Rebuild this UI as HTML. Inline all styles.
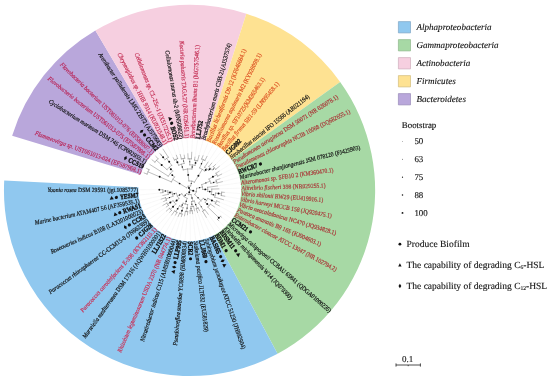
<!DOCTYPE html>
<html><head><meta charset="utf-8"><title>Phylogenetic tree</title>
<style>
html,body{margin:0;padding:0;background:#fff}
svg{display:block}
text{font-family:"Liberation Serif",serif;text-rendering:geometricPrecision}
.i{font-style:italic}
.b{font-weight:bold}
</style></head><body>
<svg width="550" height="383" viewBox="0 0 550 383">
<rect width="550" height="383" fill="#fff"/>
<path d="M12.15 135.83A185.6 185.6 0 0 1 95.38 30.46L163.60 145.58A51.4 51.4 0 0 0 140.62 174.86Z" fill="#b9a7db"/>
<path d="M95.38 30.46A185.6 185.6 0 0 1 246.34 13.70L205.51 140.86A51.4 51.4 0 0 0 163.60 145.58Z" fill="#f6cfe0"/>
<path d="M246.34 13.70A185.6 185.6 0 0 1 340.17 81.95L231.57 159.84A51.4 51.4 0 0 0 205.51 140.86Z" fill="#fee292"/>
<path d="M340.17 81.95A185.6 185.6 0 0 1 277.58 353.79L214.06 235.12A51.4 51.4 0 0 0 231.57 159.84Z" fill="#a7d9a5"/>
<path d="M277.58 353.79A185.6 185.6 0 0 1 4.21 180.56L138.46 187.24A51.4 51.4 0 0 0 214.06 235.12Z" fill="#90c8ef"/>
<g font-size="56.5" stroke-width="0" stroke-linejoin="round">
<g transform="translate(141.38 171.96) rotate(380.23)" fill="#b92659" stroke="#b92659"><text y="18.7" transform="scale(0.1000 0.112)" stroke-width="1.6" text-anchor="end" xml:space="preserve"><tspan class="i">Flammeovirga sp.</tspan> UST061013-024 (EF587968.1)</text></g>
<g transform="translate(143.54 166.94) rotate(386.30)" fill="#111" stroke="#111"><text y="17.5" transform="scale(0.0975 0.120)" stroke-width="3.0" text-anchor="end" class="b" xml:space="preserve">CCS19</text><g transform="translate(0 1.8)"><path d="M-21.63 -1.75L-20.13 -4.1L-18.63 -1.75L-20.13 0.6000000000000001Z"/></g></g>
<g transform="translate(146.21 162.18) rotate(392.36)" fill="#111" stroke="#111"><text y="18.7" transform="scale(0.1000 0.112)" stroke-width="1.6" text-anchor="end" xml:space="preserve"><tspan class="i">Cyclobacterium marinum</tspan> DSM 745 (CP002955.1)</text></g>
<g transform="translate(149.38 157.73) rotate(398.43)" fill="#b92659" stroke="#b92659"><text y="18.7" transform="scale(0.1000 0.112)" stroke-width="1.6" text-anchor="end" xml:space="preserve"><tspan class="i">Flavobacteria bacterium</tspan> UST061013-075 (EF587998.1)</text></g>
<g transform="translate(152.99 153.64) rotate(404.49)" fill="#b92659" stroke="#b92659"><text y="18.7" transform="scale(0.1000 0.112)" stroke-width="1.6" text-anchor="end" xml:space="preserve"><tspan class="i">Flavobacteria bacterium</tspan> UST061013-076 (EF588007.1)</text></g>
<g transform="translate(157.02 149.95) rotate(410.55)" fill="#111" stroke="#111"><text y="17.5" transform="scale(0.0975 0.120)" stroke-width="3.0" text-anchor="end" class="b" xml:space="preserve">CCM2</text><g transform="translate(0 1.8)"><circle cx="-19.51" cy="-1.75" r="1.6"/></g><g transform="translate(0 1.8)"><path d="M-25.71 -1.75L-24.21 -4.1L-22.71 -1.75L-24.21 0.6000000000000001Z"/></g></g>
<g transform="translate(161.41 146.71) rotate(416.62)" fill="#111" stroke="#111"><text y="18.7" transform="scale(0.1000 0.112)" stroke-width="1.6" text-anchor="end" xml:space="preserve"><tspan class="i">Arenibacter palladensis</tspan> LMG 21972 (AJ575643)</text></g>
<g transform="translate(166.12 143.96) rotate(422.68)" fill="#c32c52" stroke="#c32c52"><text y="18.7" transform="scale(0.1000 0.112)" stroke-width="1.6" text-anchor="end" xml:space="preserve"><tspan class="i">Chryseoglobus sp.</tspan> HHB 9314 (KU921548.1)</text></g>
<g transform="translate(171.09 141.71) rotate(428.73)" fill="#c32c52" stroke="#c32c52"><text y="18.7" transform="scale(0.1000 0.112)" stroke-width="1.6" text-anchor="end" xml:space="preserve"><tspan class="i">Cellulomonas sp.</tspan> CL-25c-1 (JX517235.1)</text></g>
<g transform="translate(176.26 140.01) rotate(434.79)" fill="#111" stroke="#111"><text y="17.5" transform="scale(0.0975 0.120)" stroke-width="3.0" text-anchor="end" class="b" xml:space="preserve">BOS2</text><g transform="translate(0 1.8)"><circle cx="-17.38" cy="-1.75" r="1.6"/></g><g transform="translate(0 1.8)"><path d="M-24.18 -0.1499999999999999L-19.98 -0.1499999999999999L-22.08 -3.75Z"/></g></g>
<g transform="translate(181.59 138.86) rotate(440.85)" fill="#111" stroke="#111"><text y="18.7" transform="scale(0.1000 0.112)" stroke-width="1.6" text-anchor="end" xml:space="preserve"><tspan class="i">Cellulomonas taurus</tspan> sh-2 (MN508022)</text></g>
<g transform="translate(187.01 138.28) rotate(446.90)" fill="#c32c52" stroke="#c32c52"><text y="18.7" transform="scale(0.1000 0.112)" stroke-width="1.6" text-anchor="end" xml:space="preserve"><tspan class="i">Kocuria palustris</tspan> TAGA27 (NR 026451.1)</text></g>
<g transform="translate(192.46 138.27) rotate(272.96)" fill="#c32c52" stroke="#c32c52"><text y="18.7" transform="scale(0.1000 0.112)" stroke-width="1.6" text-anchor="start" xml:space="preserve"><tspan class="i">Brevibacterium linens</tspan> B1 (MG757546.1)</text></g>
<g transform="translate(197.89 138.84) rotate(279.02)" fill="#111" stroke="#111"><text y="17.5" transform="scale(0.0975 0.120)" stroke-width="3.0" text-anchor="start" class="b" xml:space="preserve">LLJ752</text></g>
<g transform="translate(203.22 139.98) rotate(285.07)" fill="#111" stroke="#111"><text y="18.7" transform="scale(0.1000 0.112)" stroke-width="1.6" text-anchor="start" xml:space="preserve"><tspan class="i">Brachybacterium muris</tspan> C3H-21(AJ537574)</text></g>
<g transform="translate(208.41 141.67) rotate(291.15)" fill="#dc5222" stroke="#dc5222"><text y="18.7" transform="scale(0.1000 0.112)" stroke-width="1.6" text-anchor="start" xml:space="preserve"><tspan class="i">Bacillus licheniformis</tspan> D9-12 (KF646684.1)</text></g>
<g transform="translate(213.42 143.92) rotate(297.24)" fill="#dc5222" stroke="#dc5222"><text y="18.7" transform="scale(0.1000 0.112)" stroke-width="1.6" text-anchor="start" xml:space="preserve"><tspan class="i">Rossellomorea aquimaris</tspan> M2 (KY928099.1)</text></g>
<g transform="translate(218.15 146.69) rotate(303.33)" fill="#dc5222" stroke="#dc5222"><text y="18.7" transform="scale(0.1000 0.112)" stroke-width="1.6" text-anchor="start" xml:space="preserve"><tspan class="i">Bacillus sp.</tspan> SF10725(KM365463.1)</text></g>
<g transform="translate(222.57 149.94) rotate(309.42)" fill="#dc5222" stroke="#dc5222"><text y="18.7" transform="scale(0.1000 0.112)" stroke-width="1.6" text-anchor="start" xml:space="preserve"><tspan class="i">Bacillus firmus</tspan> SB1-59 (LN995458.1)</text></g>
<g transform="translate(226.61 153.64) rotate(315.51)" fill="#111" stroke="#111"><text y="17.5" transform="scale(0.0975 0.120)" stroke-width="3.0" text-anchor="start" class="b" xml:space="preserve">CJG092</text></g>
<g transform="translate(230.24 157.75) rotate(321.60)" fill="#111" stroke="#111"><text y="18.7" transform="scale(0.1000 0.112)" stroke-width="1.6" text-anchor="start" xml:space="preserve"><tspan class="i">Neobacillus niacini</tspan> IFO 15566 (AB021194)</text></g>
<g transform="translate(233.41 162.22) rotate(327.70)" fill="#aa3436" stroke="#aa3436"><text y="18.7" transform="scale(0.1000 0.112)" stroke-width="1.6" text-anchor="start" xml:space="preserve"><tspan class="i">Pseudomonas aeruginosa</tspan> DSM 50071 (NR 026078.1)</text></g>
<g transform="translate(236.09 167.01) rotate(333.79)" fill="#aa3436" stroke="#aa3436"><text y="18.7" transform="scale(0.1000 0.112)" stroke-width="1.6" text-anchor="start" xml:space="preserve"><tspan class="i">Pseudomonas chlororaphis</tspan> NCIB 10068 (DQ682655.1)</text></g>
<g transform="translate(238.25 172.05) rotate(339.88)" fill="#111" stroke="#111"><text y="17.5" transform="scale(0.0975 0.120)" stroke-width="3.0" text-anchor="start" class="b" xml:space="preserve">RWCR7</text><g transform="translate(0 1.8)"><circle cx="23.60" cy="-1.75" r="1.6"/></g></g>
<g transform="translate(239.86 177.30) rotate(345.98)" fill="#111" stroke="#111"><text y="18.7" transform="scale(0.1000 0.112)" stroke-width="1.6" text-anchor="start" xml:space="preserve"><tspan class="i">Marinobacter zhanjiangensis</tspan> JSM 078120 (FJ425903)</text></g>
<g transform="translate(240.91 182.68) rotate(352.07)" fill="#aa3436" stroke="#aa3436"><text y="18.7" transform="scale(0.1000 0.112)" stroke-width="1.6" text-anchor="start" xml:space="preserve"><tspan class="i">Alteromonas sp.</tspan> SFB10 2 (KM360470.1)</text></g>
<g transform="translate(241.37 188.15) rotate(358.16)" fill="#aa3436" stroke="#aa3436"><text y="18.7" transform="scale(0.1000 0.112)" stroke-width="1.6" text-anchor="start" xml:space="preserve"><tspan class="i">Aliivibrio fischeri</tspan> 398 (NR029255.1)</text></g>
<g transform="translate(241.26 193.63) rotate(364.26)" fill="#aa3436" stroke="#aa3436"><text y="18.7" transform="scale(0.1000 0.112)" stroke-width="1.6" text-anchor="start" xml:space="preserve"><tspan class="i">Vibrio shilonii</tspan> RW29 (EU419916.1)</text></g>
<g transform="translate(240.56 199.07) rotate(370.35)" fill="#aa3436" stroke="#aa3436"><text y="18.7" transform="scale(0.1000 0.112)" stroke-width="1.6" text-anchor="start" xml:space="preserve"><tspan class="i">Vibrio harveyi</tspan> MCCB 158 (JQ920475.1)</text></g>
<g transform="translate(239.29 204.40) rotate(376.44)" fill="#aa3436" stroke="#aa3436"><text y="18.7" transform="scale(0.1000 0.112)" stroke-width="1.6" text-anchor="start" xml:space="preserve"><tspan class="i">Vibrio neocaledonicus</tspan> NC470 (JQ934828.1)</text></g>
<g transform="translate(237.46 209.58) rotate(382.53)" fill="#aa3436" stroke="#aa3436"><text y="18.7" transform="scale(0.1000 0.112)" stroke-width="1.6" text-anchor="start" xml:space="preserve"><tspan class="i">Pantoea ananatis</tspan> B9 16S (KJ004603.1)</text></g>
<g transform="translate(235.09 214.52) rotate(388.63)" fill="#aa3436" stroke="#aa3436"><text y="18.7" transform="scale(0.1000 0.112)" stroke-width="1.6" text-anchor="start" xml:space="preserve"><tspan class="i">Enterobacter cloacae</tspan> ATCC 13047 (NR 102794.2)</text></g>
<g transform="translate(232.21 219.19) rotate(394.72)" fill="#111" stroke="#111"><text y="17.5" transform="scale(0.0975 0.120)" stroke-width="3.0" text-anchor="start" class="b" xml:space="preserve">CCM21</text><g transform="translate(0 1.8)"><circle cx="22.27" cy="-1.75" r="1.6"/></g></g>
<g transform="translate(228.85 223.53) rotate(400.81)" fill="#111" stroke="#111"><text y="18.7" transform="scale(0.1000 0.112)" stroke-width="1.6" text-anchor="start" xml:space="preserve"><tspan class="i">Microvirga calopogonii</tspan> CCBAU 65841 (QDGA01000235)</text></g>
<g transform="translate(225.05 227.48) rotate(406.91)" fill="#111" stroke="#111"><text y="18.7" transform="scale(0.1000 0.112)" stroke-width="1.6" text-anchor="start" xml:space="preserve"><tspan class="i">Klebsiella michiganensis</tspan> W14 (JQ070300)</text></g>
<g transform="translate(220.85 231.01) rotate(413.00)" fill="#111" stroke="#111"><text y="17.5" transform="scale(0.0975 0.120)" stroke-width="3.0" text-anchor="start" class="b" xml:space="preserve">BDSM11</text><g transform="translate(0 1.8)"><circle cx="24.72" cy="-1.75" r="1.6"/></g><g transform="translate(0 1.8)"><path d="M27.32 -0.1499999999999999L31.52 -0.1499999999999999L29.42 -3.75Z"/></g></g>
<g transform="translate(216.30 234.07) rotate(419.09)" fill="#111" stroke="#111"><text y="17.5" transform="scale(0.0975 0.120)" stroke-width="3.0" text-anchor="start" class="b" xml:space="preserve">BDM1</text><g transform="translate(0 1.8)"><circle cx="19.21" cy="-1.75" r="1.6"/></g></g>
<g transform="translate(211.47 236.63) rotate(425.17)" fill="#111" stroke="#111"><text y="17.5" transform="scale(0.0975 0.120)" stroke-width="3.0" text-anchor="start" class="b" xml:space="preserve">BASI65</text><g transform="translate(0 1.8)"><circle cx="21.97" cy="-1.75" r="1.6"/></g><g transform="translate(0 1.8)"><path d="M25.17 -1.75L26.67 -4.1L28.17 -1.75L26.67 0.6000000000000001Z"/></g><g transform="translate(0 1.8)"><path d="M29.27 -0.1499999999999999L33.47 -0.1499999999999999L31.37 -3.75Z"/></g></g>
<g transform="translate(206.42 238.65) rotate(431.22)" fill="#111" stroke="#111"><text y="18.7" transform="scale(0.1000 0.112)" stroke-width="1.6" text-anchor="start" xml:space="preserve"><tspan class="i">Sphingobium yanoikuyae</tspan> ATCC 51230 (JH992904)</text></g>
<g transform="translate(201.17 240.13) rotate(437.27)" fill="#111" stroke="#111"><text y="17.5" transform="scale(0.0975 0.120)" stroke-width="3.0" text-anchor="start" class="b" xml:space="preserve">LLJ860</text><g transform="translate(0 1.8)"><circle cx="21.97" cy="-1.75" r="1.6"/></g></g>
<g transform="translate(195.81 241.05) rotate(443.32)" fill="#111" stroke="#111"><text y="18.7" transform="scale(0.1000 0.112)" stroke-width="1.6" text-anchor="start" xml:space="preserve"><tspan class="i">Stakelama pacifica</tspan> JLT832 (EU581829)</text></g>
<g transform="translate(190.37 241.40) rotate(449.37)" fill="#111" stroke="#111"><text y="17.5" transform="scale(0.0975 0.120)" stroke-width="3.0" text-anchor="start" class="b" xml:space="preserve">SCR2</text><g transform="translate(0 1.8)"><circle cx="17.37" cy="-1.75" r="1.6"/></g></g>
<g transform="translate(184.93 241.17) rotate(635.42)" fill="#111" stroke="#111"><text y="18.7" transform="scale(0.1000 0.112)" stroke-width="1.6" text-anchor="end" xml:space="preserve"><tspan class="i">Pseudohoeflea suaedae</tspan> YC6898 (HM800934)</text></g>
<g transform="translate(179.54 240.37) rotate(641.47)" fill="#111" stroke="#111"><text y="17.5" transform="scale(0.0975 0.120)" stroke-width="3.0" text-anchor="end" class="b" xml:space="preserve">LLP995</text><g transform="translate(0 1.8)"><circle cx="-22.58" cy="-1.75" r="1.6"/></g><g transform="translate(0 1.8)"><path d="M-28.78 -1.75L-27.28 -4.1L-25.78 -1.75L-27.28 0.6000000000000001Z"/></g><g transform="translate(0 1.8)"><path d="M-34.08 -0.1499999999999999L-29.88 -0.1499999999999999L-31.98 -3.75Z"/></g></g>
<g transform="translate(174.27 239.01) rotate(647.52)" fill="#111" stroke="#111"><text y="18.7" transform="scale(0.1000 0.112)" stroke-width="1.6" text-anchor="end" xml:space="preserve"><tspan class="i">Nitratireductor indicus</tspan> C115 (AMSI01000044)</text></g>
<g transform="translate(169.17 237.10) rotate(653.57)" fill="#cb2c52" stroke="#cb2c52"><text y="18.7" transform="scale(0.1000 0.112)" stroke-width="1.6" text-anchor="end" xml:space="preserve"><tspan class="i">Rhizobium leguminosarum</tspan> USDA 2370 (NR 044774.1)</text></g>
<g transform="translate(164.30 234.66) rotate(659.62)" fill="#111" stroke="#111"><text y="17.5" transform="scale(0.0975 0.120)" stroke-width="3.0" text-anchor="end" class="b" xml:space="preserve">LLJ1S22</text></g>
<g transform="translate(159.71 231.72) rotate(665.67)" fill="#111" stroke="#111"><text y="18.7" transform="scale(0.1000 0.112)" stroke-width="1.6" text-anchor="end" xml:space="preserve"><tspan class="i">Martelella mediterranea</tspan> DSM 17316 (AQWH01000001)</text></g>
<g transform="translate(155.46 228.31) rotate(671.72)" fill="#cb2c52" stroke="#cb2c52"><text y="18.7" transform="scale(0.1000 0.112)" stroke-width="1.6" text-anchor="end" xml:space="preserve"><tspan class="i">Paracoccus carotinifaciens</tspan> E-396 (KY382115.1)</text></g>
<g transform="translate(151.59 224.48) rotate(677.77)" fill="#111" stroke="#111"><text y="17.5" transform="scale(0.0975 0.120)" stroke-width="3.0" text-anchor="end" class="b" xml:space="preserve">CJG28</text><g transform="translate(0 1.8)"><circle cx="-20.13" cy="-1.75" r="1.6"/></g></g>
<g transform="translate(148.15 220.26) rotate(683.82)" fill="#111" stroke="#111"><text y="18.7" transform="scale(0.1000 0.112)" stroke-width="1.6" text-anchor="end" xml:space="preserve"><tspan class="i">Paracoccus rhizosphaerae</tspan> CC-CCM15-8 (JN662389)</text></g>
<g transform="translate(145.17 215.70) rotate(689.87)" fill="#111" stroke="#111"><text y="17.5" transform="scale(0.0975 0.120)" stroke-width="3.0" text-anchor="end" class="b" xml:space="preserve">CCR3</text><g transform="translate(0 1.8)"><circle cx="-18.29" cy="-1.75" r="1.6"/></g><g transform="translate(0 1.8)"><path d="M-24.49 -1.75L-22.99 -4.1L-21.49 -1.75L-22.99 0.6000000000000001Z"/></g></g>
<g transform="translate(142.69 210.85) rotate(695.92)" fill="#111" stroke="#111"><text y="18.7" transform="scale(0.1000 0.112)" stroke-width="1.6" text-anchor="end" xml:space="preserve"><tspan class="i">Roseovarius indicus</tspan> B108 (LAXI01000023)</text></g>
<g transform="translate(140.73 205.77) rotate(701.97)" fill="#111" stroke="#111"><text y="17.5" transform="scale(0.0975 0.120)" stroke-width="3.0" text-anchor="end" class="b" xml:space="preserve">RWAS1</text><g transform="translate(0 1.8)"><circle cx="-22.08" cy="-1.75" r="1.6"/></g><g transform="translate(0 1.8)"><path d="M-28.88 -0.1499999999999999L-24.68 -0.1499999999999999L-26.78 -3.75Z"/></g></g>
<g transform="translate(139.32 200.51) rotate(708.02)" fill="#111" stroke="#111"><text y="18.7" transform="scale(0.1000 0.112)" stroke-width="1.6" text-anchor="end" xml:space="preserve"><tspan class="i">Marine bacterium</tspan> ATAM407 56 (AF359535.1)</text></g>
<g transform="translate(138.48 195.13) rotate(714.07)" fill="#111" stroke="#111"><text y="17.5" transform="scale(0.0975 0.120)" stroke-width="3.0" text-anchor="end" class="b" xml:space="preserve">YESM7</text><g transform="translate(0 1.8)"><circle cx="-22.27" cy="-1.75" r="1.6"/></g><g transform="translate(0 1.8)"><path d="M-29.07 -0.1499999999999999L-24.87 -0.1499999999999999L-26.97 -3.75Z"/></g></g>
<g transform="translate(138.20 189.69) rotate(720.12)" fill="#111" stroke="#111"><text y="18.7" transform="scale(0.1000 0.112)" stroke-width="1.6" text-anchor="end" xml:space="preserve"><tspan class="i">Yoonia rosea</tspan> DSM 29591 (jgi.1085777)</text></g>
</g>
<path d="M144.29 173.03L141.85 172.13M146.77 168.54L143.99 167.16M150.10 164.64L146.64 162.45M152.20 159.97L149.77 158.04M155.91 156.51L153.35 153.99M159.94 153.51L157.33 150.34M163.11 149.30L161.68 147.13M173.28 157.82L166.35 144.40M176.38 155.32L171.27 142.18M180.22 154.58L176.39 140.49M184.23 155.25L181.67 139.35M187.86 153.85L187.04 138.77M191.74 152.35L192.44 138.77M194.97 157.21L197.81 139.33M199.03 155.52L203.09 140.46M202.97 155.76L208.23 142.14M206.96 156.46L213.19 144.37M207.93 162.23L217.88 147.10M211.71 163.15L222.25 150.33M215.48 164.57L226.25 153.99M219.19 166.51L229.85 158.06M218.96 171.36L232.99 162.49M221.65 174.12L235.65 167.23M219.85 178.79L237.78 172.22M222.30 181.68L239.38 177.42M217.53 185.94L240.41 182.75M218.79 188.87L240.87 188.16M224.20 192.36L240.76 193.59M224.72 196.18L240.07 198.98M223.37 199.71L238.81 204.26M208.16 214.16L220.55 230.61M206.24 217.26L216.05 233.64M219.36 202.06L237.00 209.38M219.20 205.85L234.65 214.28M214.46 206.89L231.80 218.91M221.59 217.25L228.47 223.20M218.70 220.69L224.71 227.12M199.46 210.67L211.26 236.17M197.53 212.52L206.25 238.18M194.54 210.77L201.06 239.64M192.59 213.64L195.75 240.55M190.06 213.30L190.36 240.90M187.44 214.69L184.98 240.67M184.53 215.77L179.64 239.88M181.37 216.50L174.42 238.53M178.20 216.38L169.37 236.64M175.47 215.01L164.54 234.22M171.72 214.98L160.00 231.31M169.83 212.19L155.79 227.94M166.48 210.97L151.96 224.14M166.39 206.92L148.55 219.96M162.99 205.36L145.60 215.45M163.78 201.43L143.15 210.65M161.27 199.08L141.21 205.61M162.90 195.51L139.81 200.40M160.46 192.85L138.97 195.08M159.30 189.73L138.70 189.69" stroke="#ebebeb" stroke-width="0.35" fill="none"/>
<path d="M189.80 189.80L189.81 189.80M189.80 189.79L188.25 186.11M186.39 187.70A4.00 4.00 0 0 1 190.68 185.90M186.39 187.70L172.77 179.32M171.43 181.90A20.00 20.00 0 0 1 174.47 176.96M171.43 181.90L148.00 171.83M147.11 174.06A45.50 45.50 0 0 1 149.01 169.64M147.11 174.06L144.29 173.03M149.01 169.64L146.77 168.54M174.47 176.96L170.25 173.43M168.26 176.15A25.50 25.50 0 0 1 172.58 170.99M168.26 176.15L150.10 164.64M172.58 170.99L169.20 167.31M166.94 169.61A30.50 30.50 0 0 1 171.69 165.26M166.94 169.61L156.45 160.34M154.94 162.14A44.50 44.50 0 0 1 158.05 158.62M154.94 162.14L152.20 159.97M158.05 158.62L155.91 156.51M171.69 165.26L166.65 158.41M165.02 159.68A39.00 39.00 0 0 1 168.34 157.23M165.02 159.68L161.21 155.05M161.21 155.05A45.00 45.00 0 0 1 161.21 155.05M161.21 155.05L159.94 153.51M168.34 157.23L163.11 149.30M190.68 185.90L191.77 181.02M188.84 180.85A9.00 9.00 0 0 1 194.49 182.12M188.84 180.85L187.56 168.92M183.23 169.85A21.00 21.00 0 0 1 191.99 168.91M183.23 169.85L181.35 164.16M178.69 165.19A27.00 27.00 0 0 1 184.10 163.41M178.69 165.19L176.02 159.27M174.42 160.04A33.50 33.50 0 0 1 177.65 158.58M174.42 160.04L173.28 157.82M177.65 158.58L176.38 155.32M184.10 163.41L183.05 158.52M181.40 158.92A32.00 32.00 0 0 1 184.71 158.21M181.40 158.92L180.22 154.58M184.71 158.21L184.23 155.25M191.99 168.91L192.41 164.94M189.77 164.80A25.00 25.00 0 0 1 195.02 165.35M189.77 164.80L189.76 158.80M188.13 158.85A31.00 31.00 0 0 1 191.40 158.84M188.13 158.85L187.86 153.85M191.40 158.84L191.74 152.35M195.02 165.35L196.06 160.46M194.50 160.17A30.00 30.00 0 0 1 197.60 160.83M194.50 160.17L194.97 157.21M197.60 160.83L199.03 155.52M194.49 182.12L202.31 169.32M199.63 167.91A24.00 24.00 0 0 1 204.79 171.06M199.63 167.91L203.32 159.70M201.70 159.02A33.00 33.00 0 0 1 204.90 160.46M201.70 159.02L202.97 155.76M204.90 160.46L206.96 156.46M204.79 171.06L206.67 168.72M204.64 167.24A27.00 27.00 0 0 1 208.55 170.37M204.64 167.24L207.93 162.23M208.55 170.37L210.64 168.22M208.85 166.62A30.00 30.00 0 0 1 212.29 169.94M208.85 166.62L211.71 163.15M212.29 169.94L214.54 167.96M213.34 166.68A33.00 33.00 0 0 1 215.66 169.30M213.34 166.68L215.48 164.57M215.66 169.30L219.19 166.51M189.81 189.80L196.53 191.73M196.64 188.31A7.00 7.00 0 0 1 194.81 194.68M196.64 188.31L202.50 187.03M201.75 184.69A13.00 13.00 0 0 1 202.80 189.47M201.75 184.69L210.03 181.15M208.99 179.05A22.00 22.00 0 0 1 210.83 183.34M208.99 179.05L216.85 174.65M216.00 173.23A31.00 31.00 0 0 1 217.61 176.11M216.00 173.23L218.96 171.36M217.61 176.11L221.65 174.12M210.83 183.34L216.57 181.58M216.09 180.17A28.00 28.00 0 0 1 216.97 183.01M216.09 180.17L219.85 178.79M216.97 183.01L222.30 181.68M202.80 189.47L207.79 189.34M207.63 187.32A18.00 18.00 0 0 1 207.73 191.37M207.63 187.32L217.53 185.94M207.73 191.37L211.72 191.72M211.79 189.09A22.00 22.00 0 0 1 211.33 194.33M211.79 189.09L218.79 188.87M211.33 194.33L215.24 195.15M215.59 193.10A26.00 26.00 0 0 1 214.74 197.16M215.59 193.10L221.54 193.87M221.71 192.17A32.00 32.00 0 0 1 221.28 195.55M221.71 192.17L224.20 192.36M221.28 195.55L224.72 196.18M214.74 197.16L223.37 199.71M194.81 194.68L201.26 200.96M198.74 203.07A16.00 16.00 0 0 1 203.30 198.38M198.74 203.07L203.76 210.54M204.85 209.77A25.00 25.00 0 0 1 202.64 211.25M204.85 209.77L208.16 214.16M202.64 211.25L206.24 217.26M203.30 198.38L206.68 200.53M207.84 198.44A20.00 20.00 0 0 1 205.28 202.47M207.84 198.44L215.96 202.32M216.59 200.91A29.00 29.00 0 0 1 215.25 203.69M216.59 200.91L219.36 202.06M215.25 203.69L219.20 205.85M205.28 202.47L209.15 205.63M210.35 204.04A25.00 25.00 0 0 1 207.83 207.12M210.35 204.04L214.46 206.89M207.83 207.12L219.00 217.86M220.45 216.27A40.50 40.50 0 0 1 217.47 219.38M220.45 216.27L221.59 217.25M217.47 219.38L218.70 220.69M189.80 189.81L188.70 194.68M191.09 194.63A5.00 5.00 0 0 1 186.56 193.61M191.09 194.63L192.91 201.39M194.26 200.94A12.00 12.00 0 0 1 191.51 201.68M194.26 200.94L197.23 208.37M198.20 207.95A20.00 20.00 0 0 1 196.24 208.73M198.20 207.95L199.46 210.67M196.24 208.73L197.53 212.52M191.51 201.68L192.22 206.63M193.55 206.38A17.00 17.00 0 0 1 190.88 206.77M193.55 206.38L194.54 210.77M190.88 206.77L191.14 210.76M192.24 210.66A21.00 21.00 0 0 1 190.03 210.80M192.24 210.66L192.59 213.64M190.03 210.80L190.06 213.30M186.56 193.61L183.97 196.65M187.09 198.38A9.00 9.00 0 0 1 181.76 193.85M187.09 198.38L185.28 204.10M187.60 204.64A15.00 15.00 0 0 1 183.08 203.21M187.60 204.64L186.57 211.56M187.72 211.70A22.00 22.00 0 0 1 185.43 211.36M187.72 211.70L187.44 214.69M185.43 211.36L184.53 215.77M183.08 203.21L181.29 206.79M183.13 207.59A19.00 19.00 0 0 1 179.55 205.80M183.13 207.59L180.85 213.68M182.12 214.12A25.50 25.50 0 0 1 179.60 213.17M182.12 214.12L181.37 216.50M179.60 213.17L178.20 216.38M179.55 205.80L175.77 211.69M176.95 212.40A26.00 26.00 0 0 1 174.64 210.92M176.95 212.40L175.47 215.01M174.64 210.92L171.72 214.98M181.76 193.85L177.30 196.10M178.95 198.65A14.00 14.00 0 0 1 176.23 193.25M178.95 198.65L174.30 202.44M175.72 204.00A20.00 20.00 0 0 1 173.06 200.74M175.72 204.00L170.44 209.33M171.50 210.33A27.50 27.50 0 0 1 169.44 208.28M171.50 210.33L169.83 212.19M169.44 208.28L166.48 210.97M173.06 200.74L167.61 204.29M168.41 205.44A26.50 26.50 0 0 1 166.88 203.10M168.41 205.44L166.39 206.92M166.88 203.10L162.99 205.36M176.23 193.25L172.35 194.23M173.00 196.27A18.00 18.00 0 0 1 171.95 192.13M173.00 196.27L166.00 198.96M166.52 200.20A25.50 25.50 0 0 1 165.55 197.69M166.52 200.20L163.78 201.43M165.55 197.69L161.27 199.08M171.95 192.13L167.99 192.65M168.28 194.37A22.00 22.00 0 0 1 167.83 190.91M168.28 194.37L162.90 195.51M167.83 190.91L162.83 191.17M162.94 192.59A27.00 27.00 0 0 1 162.80 189.74M162.94 192.59L160.46 192.85M162.80 189.74L159.30 189.73" stroke="#454545" stroke-width="0.35" fill="none" stroke-linecap="square"/>
<g fill="#111"><circle cx="189.02" cy="187.95" r="1.0"/><circle cx="179.58" cy="183.51" r="0.85"/><circle cx="159.71" cy="176.86" r="1.0"/><circle cx="172.36" cy="175.19" r="0.85"/><circle cx="170.89" cy="169.15" r="1.0"/><circle cx="161.70" cy="164.97" r="1.0"/><circle cx="169.17" cy="161.84" r="1.0"/><circle cx="163.12" cy="157.37" r="1.0"/><circle cx="191.22" cy="183.46" r="0.55"/><circle cx="188.20" cy="174.89" r="0.95"/><circle cx="182.29" cy="167.01" r="0.7"/><circle cx="177.35" cy="162.23" r="1.0"/><circle cx="183.58" cy="160.96" r="0.55"/><circle cx="192.20" cy="166.93" r="0.7"/><circle cx="189.77" cy="161.80" r="0.55"/><circle cx="195.54" cy="162.91" r="0.85"/><circle cx="198.40" cy="175.72" r="0.95"/><circle cx="201.48" cy="163.80" r="0.7"/><circle cx="205.73" cy="169.89" r="0.95"/><circle cx="209.59" cy="169.30" r="1.0"/><circle cx="213.41" cy="168.95" r="0.55"/><circle cx="193.17" cy="190.76" r="1.0"/><circle cx="199.57" cy="187.67" r="0.7"/><circle cx="205.89" cy="182.92" r="0.55"/><circle cx="212.92" cy="176.85" r="1.0"/><circle cx="213.70" cy="182.46" r="0.7"/><circle cx="205.29" cy="189.41" r="0.95"/><circle cx="209.72" cy="191.55" r="0.85"/><circle cx="213.29" cy="194.74" r="0.7"/><circle cx="218.56" cy="193.49" r="0.95"/><circle cx="198.04" cy="197.82" r="0.7"/><circle cx="201.25" cy="206.80" r="0.55"/><circle cx="204.99" cy="199.45" r="0.7"/><circle cx="211.90" cy="200.38" r="1.0"/><circle cx="207.21" cy="204.05" r="1.0"/><circle cx="218.79" cy="217.65" r="1.0"/><circle cx="189.25" cy="192.24" r="0.95"/><circle cx="192.00" cy="198.01" r="0.7"/><circle cx="195.74" cy="204.65" r="0.7"/><circle cx="191.87" cy="204.15" r="0.55"/><circle cx="191.01" cy="208.76" r="0.55"/><circle cx="185.26" cy="195.13" r="0.7"/><circle cx="186.19" cy="201.24" r="0.7"/><circle cx="187.08" cy="208.10" r="0.7"/><circle cx="182.19" cy="205.00" r="0.7"/><circle cx="181.99" cy="210.63" r="0.85"/><circle cx="177.66" cy="208.75" r="0.85"/><circle cx="179.53" cy="194.97" r="0.7"/><circle cx="176.63" cy="200.55" r="1.0"/><circle cx="173.08" cy="206.67" r="1.0"/><circle cx="170.33" cy="202.51" r="1.0"/><circle cx="174.29" cy="193.74" r="0.7"/><circle cx="169.50" cy="197.61" r="0.7"/><circle cx="169.97" cy="192.39" r="1.0"/><circle cx="165.33" cy="191.04" r="0.7"/><circle cx="159.30" cy="189.73" r="0.9"/></g>
<g fill="#111" stroke="#111" stroke-width="0.12" stroke-linejoin="round">
<rect x="398.4" y="21.6" width="12.1" height="11.3" fill="#90c8ef" stroke="#7fa6c6" stroke-width="0.7"/>
<text x="416.5" y="29.6" font-size="9.05" class="i">Alphaproteobacteria</text>
<rect x="398.4" y="39.6" width="12.1" height="11.3" fill="#a7d9a5" stroke="#8fb88d" stroke-width="0.7"/>
<text x="416.5" y="47.6" font-size="9.05" class="i">Gammaproteobacteria</text>
<rect x="398.4" y="57.6" width="12.1" height="11.3" fill="#f6cfe0" stroke="#cfadbc" stroke-width="0.7"/>
<text x="416.5" y="65.6" font-size="9.05" class="i">Actinobacteria</text>
<rect x="398.4" y="75.6" width="12.1" height="11.3" fill="#fee292" stroke="#d3bd7c" stroke-width="0.7"/>
<text x="416.5" y="83.6" font-size="9.05" class="i">Firmicutes</text>
<rect x="398.4" y="93.6" width="12.1" height="11.3" fill="#b9a7db" stroke="#998bb9" stroke-width="0.7"/>
<text x="416.5" y="101.6" font-size="9.05" class="i">Bacteroidetes</text>
<text x="401.8" y="128.4" font-size="8.9">Bootstrap</text>
<circle cx="402.5" cy="141.40" r="0.3" stroke="none"/>
<text x="414.4" y="144.10" font-size="8.9">50</text>
<circle cx="402.5" cy="159.28" r="0.45" stroke="none"/>
<text x="414.4" y="161.98" font-size="8.9">63</text>
<circle cx="402.5" cy="177.16" r="0.6" stroke="none"/>
<text x="414.4" y="179.86" font-size="8.9">75</text>
<circle cx="402.5" cy="195.04" r="0.78" stroke="none"/>
<text x="414.4" y="197.74" font-size="8.9">88</text>
<circle cx="402.5" cy="212.92" r="0.95" stroke="none"/>
<text x="414.4" y="215.62" font-size="8.9">100</text>
<circle cx="399.9" cy="244.2" r="1.4" stroke="none"/>
<text x="406.5" y="246.6" font-size="9.5">Produce Biofilm</text>
<path d="M398.2 266.5L401.6 266.5L399.9 263.2Z" stroke="none"/>
<text x="406.5" y="267.5" font-size="9.5">The capability of degrading C<tspan font-size="5.6" dy="1.2">6</tspan><tspan dy="-1.2">-HSL</tspan></text>
<path d="M398.5 286.0L399.9 283.8L401.3 286.0L399.9 288.2Z" stroke="none"/>
<text x="406.5" y="288.5" font-size="9.5">The capability of degrading C<tspan font-size="5.6" dy="1.2">12</tspan><tspan dy="-1.2">-HSL</tspan></text>
<text x="407.7" y="362.1" font-size="9" text-anchor="middle">0.1</text>
<path d="M396 365H420.4M396 363.4V366.6M420.4 363.4V366.6M408.2 365V366.2" stroke="#222" stroke-width="0.8" fill="none"/>
</g>
</svg>
</body></html>
